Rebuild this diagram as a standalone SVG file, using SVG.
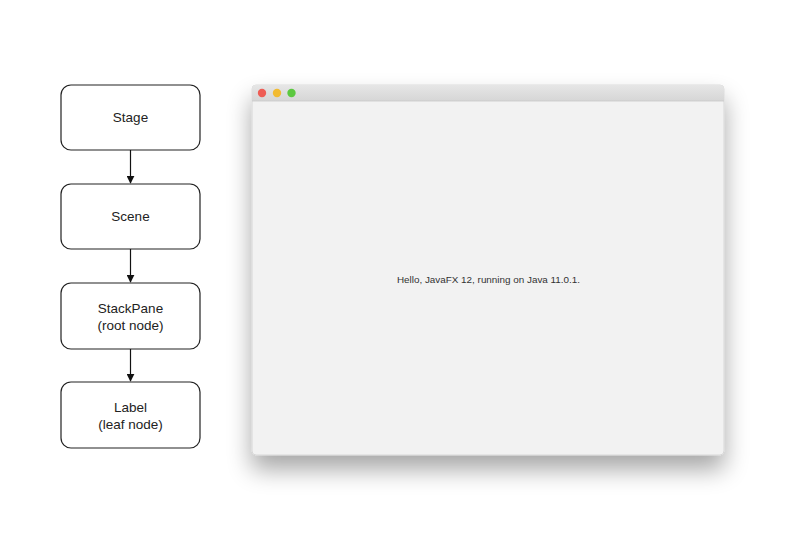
<svg xmlns="http://www.w3.org/2000/svg" width="800" height="533" viewBox="0 0 800 533">
<style>
.box{fill:#fff;stroke:#222;stroke-width:1.2}
.lbl{font-family:"Liberation Sans",Arial,sans-serif;font-size:13.5px;fill:#222;text-anchor:middle}
.conn{stroke:#111;stroke-width:1.2;fill:none}
</style>
<defs>
<marker id="arr" viewBox="0 0 10 10" refX="9" refY="5" markerWidth="8" markerHeight="8" markerUnits="userSpaceOnUse" orient="auto">
<path d="M0,0 L10,5 L0,10 z" fill="#111"/>
</marker>
<filter id="sh" x="-20%" y="-20%" width="140%" height="160%">
<feGaussianBlur in="SourceAlpha" stdDeviation="12"/>
<feOffset dy="14"/>
<feComponentTransfer><feFuncA type="linear" slope="0.35"/></feComponentTransfer>
<feMerge><feMergeNode/><feMergeNode in="SourceGraphic"/></feMerge>
</filter>
<linearGradient id="tb" x1="0" y1="0" x2="0" y2="1">
<stop offset="0" stop-color="#e6e6e6"/>
<stop offset="1" stop-color="#d6d6d6"/>
</linearGradient>
</defs>
<rect width="800" height="533" fill="#fff"/>
<g id="stage"><rect class="box" x="61" y="85" width="139" height="65" rx="10"/><text class="lbl" x="130.5" y="122">Stage</text></g>
<g id="scene"><rect class="box" x="61" y="184" width="139" height="65" rx="10"/><text class="lbl" x="130.5" y="221">Scene</text></g>
<g id="stackpane"><rect class="box" x="61" y="283" width="139" height="66" rx="10"/><text class="lbl" x="130.5" y="313">StackPane</text><text class="lbl" x="130.5" y="330">(root node)</text></g>
<g id="label"><rect class="box" x="61" y="382" width="139" height="66" rx="10"/><text class="lbl" x="130.5" y="412">Label</text><text class="lbl" x="130.5" y="429">(leaf node)</text></g>
<g id="connectors">
<line class="conn" x1="130.5" y1="150" x2="130.5" y2="183" marker-end="url(#arr)"/>
<line class="conn" x1="130.5" y1="249" x2="130.5" y2="282" marker-end="url(#arr)"/>
<line class="conn" x1="130.5" y1="349" x2="130.5" y2="381" marker-end="url(#arr)"/>
</g>
<g id="window">
<rect x="252" y="85" width="472" height="370" rx="4" fill="#f2f2f2" stroke="#d0d0d0" stroke-width="0.8" filter="url(#sh)"/>
<path d="M256,85 H720 A4,4 0 0 1 724,89 V101 H252 V89 A4,4 0 0 1 256,85 Z" fill="url(#tb)"/>
<line x1="252" y1="101" x2="724" y2="101" stroke="#c8c8c8" stroke-width="0.8"/>
<circle cx="262" cy="93" r="4.2" fill="#ee5d55"/>
<circle cx="277" cy="93" r="4.2" fill="#f2bb32"/>
<circle cx="291.5" cy="93" r="4.2" fill="#5cc840"/>
<text x="488.5" y="283" font-family="'Liberation Sans',Arial,sans-serif" font-size="9.9" fill="#333" text-anchor="middle">Hello, JavaFX 12, running on Java 11.0.1.</text>
</g>
</svg>
